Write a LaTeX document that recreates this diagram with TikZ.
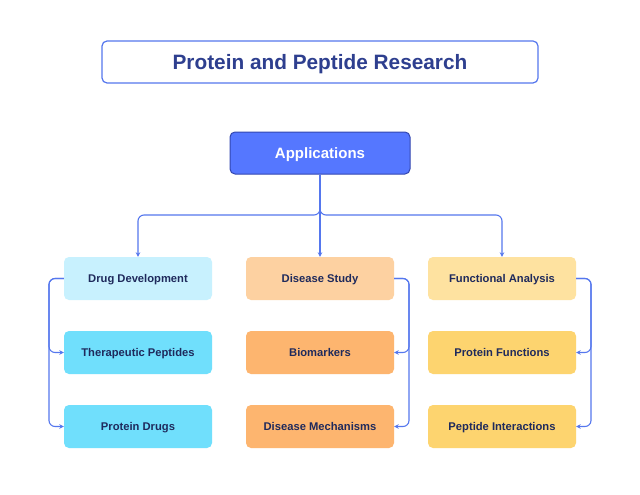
\documentclass[tikz,border=0pt]{standalone}
\usepackage{fontspec}
\setmainfont{Liberation Sans}
\usetikzlibrary{arrows.meta}
\definecolor{titletxt}{HTML}{2E3F8F}
\definecolor{edge}{HTML}{5577EE}
\definecolor{appfill}{HTML}{5577FF}
\definecolor{appdraw}{HTML}{3347B0}
\definecolor{navy}{HTML}{1F2A5C}
\definecolor{cA}{HTML}{C8F1FE}
\definecolor{cB}{HTML}{70DFFC}
\definecolor{dA}{HTML}{FDD1A1}
\definecolor{dB}{HTML}{FDB56F}
\definecolor{fA}{HTML}{FEE2A0}
\definecolor{fB}{HTML}{FDD46F}
\tikzset{
  box/.style={rounded corners=5pt, minimum width=148pt, minimum height=43pt, inner sep=0pt, text height=8pt, text depth=0pt, font=\fontsize{11.2}{13}\selectfont\bfseries, text=navy},
  conn/.style={draw=edge, line width=1.1pt, rounded corners=6pt, -{Stealth[length=4.5pt,width=4.5pt]}},
}
\begin{document}
\begin{tikzpicture}[x=1pt,y=-1pt]
\useasboundingbox[fill=white] (0,0) rectangle (640,495);
\node[draw=edge, line width=1.2pt, rounded corners=5pt, minimum width=436pt, minimum height=42pt, inner sep=0pt, text height=15pt, text depth=0pt, text=titletxt, font=\fontsize{20.8}{25}\selectfont\bfseries] (title) at (320,62) {Protein and Peptide Research};
\node[fill=appfill, draw=appdraw, line width=1pt, rounded corners=5pt, minimum width=180pt, minimum height=42pt, inner sep=0pt, text height=10.8pt, text depth=0pt, text=white, font=\fontsize{15}{18}\selectfont\bfseries] (app) at (320,153) {Applications};

\node[box, fill=cA] (dd) at (138,278.5) {Drug Development};
\node[box, fill=cB] (tp) at (138,352.5) {Therapeutic Peptides};
\node[box, fill=cB] (pd) at (138,426.5) {Protein Drugs};
\node[box, fill=dA] (ds) at (320,278.5) {Disease Study};
\node[box, fill=dB] (bm) at (320,352.5) {Biomarkers};
\node[box, fill=dB] (dm) at (320,426.5) {Disease Mechanisms};
\node[box, fill=fA] (fa) at (502,278.5) {Functional Analysis};
\node[box, fill=fB] (pf) at (502,352.5) {Protein Functions};
\node[box, fill=fB] (pi) at (502,426.5) {Peptide Interactions};

\draw[conn] (app.south) |- (138,215) -- (dd.north);
\draw[conn] (app.south) |- (502,215) -- (fa.north);
\draw[conn] (app.south) -- (ds.north);

\draw[conn] (dd.west) -- (49,278.5) |- (tp.west);
\draw[conn] (dd.west) -- (49,278.5) |- (pd.west);
\draw[conn] (ds.east) -- (409,278.5) |- (bm.east);
\draw[conn] (ds.east) -- (409,278.5) |- (dm.east);
\draw[conn] (fa.east) -- (591,278.5) |- (pf.east);
\draw[conn] (fa.east) -- (591,278.5) |- (pi.east);
\end{tikzpicture}
\end{document}
